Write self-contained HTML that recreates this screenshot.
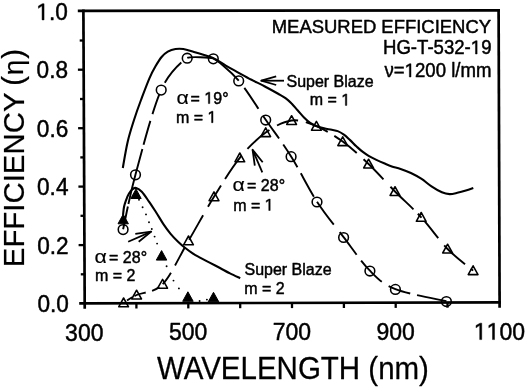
<!DOCTYPE html>
<html><head><meta charset="utf-8"><style>
html,body{margin:0;padding:0;background:#fff;}
svg{display:block;filter:grayscale(1);}
text{font-family:"Liberation Sans",sans-serif;}
.o,.h{fill-opacity:0;stroke-opacity:0;}
</style></head><body>
<svg width="525" height="388" viewBox="0 0 525 388">
<rect width="525" height="388" fill="#fff"/>
<g stroke="#000" stroke-width="2.7" fill="none" stroke-linecap="butt">
<path d="M77.8,10.91 L499.90,10.40"/>
<path d="M83.40,9.60 L84.72,308.70"/>
<path d="M498.60,9.10 L499.62,307.80"/>
<path d="M79.20,303.41 L500.90,302.40"/>
</g>
<g stroke="#000" stroke-width="2.3" fill="none"><path d="M80.8,274.3 H84.6"/><path d="M78.6,245.1 H84.4"/><path d="M80.5,215.8 H84.3"/><path d="M78.4,186.6 H84.2"/><path d="M80.3,157.4 H84.1"/><path d="M78.1,128.2 H83.9"/><path d="M80.0,99.0 H83.8"/><path d="M77.9,69.7 H83.7"/><path d="M79.7,40.5 H83.5"/><path d="M136.4,303.3 V308.5"/><path d="M188.3,303.2 V308.4"/><path d="M240.2,303.0 V308.2"/><path d="M292.0,302.9 V308.1"/><path d="M343.9,302.8 V308.0"/><path d="M395.7,302.7 V307.9"/><path d="M447.5,302.5 V307.7"/></g>
<path d="M122.8,168.0 C123.6,163.5 125.9,149.2 127.8,141.2 C129.7,133.2 131.8,126.9 134.0,120.0 C136.2,113.1 138.4,106.9 141.0,100.0 C143.6,93.1 146.9,84.2 149.3,78.6 C151.7,73.0 153.4,69.9 155.5,66.3 C157.6,62.7 159.5,59.5 161.6,57.0 C163.7,54.5 165.5,52.9 167.8,51.6 C170.1,50.3 172.9,49.4 175.5,49.0 C178.1,48.6 180.2,48.5 183.3,49.0 C186.4,49.5 189.1,50.5 194.0,52.0 C198.9,53.5 207.6,55.7 212.9,58.0 C218.2,60.3 221.5,63.1 225.8,65.6 C230.1,68.1 234.4,70.4 238.7,72.8 C243.0,75.2 247.2,77.6 251.5,79.8 C255.8,82.0 260.0,83.9 264.4,86.2 C268.8,88.5 274.2,91.5 277.7,93.5 C281.2,95.5 283.2,96.4 285.5,98.1 C287.8,99.8 289.6,101.4 291.6,103.5 C293.7,105.6 295.7,108.2 297.8,110.5 C299.9,112.8 301.9,115.4 304.0,117.5 C306.1,119.6 308.1,121.5 310.2,122.9 C312.3,124.3 314.1,125.1 316.4,126.0 C318.7,126.9 321.5,127.7 324.1,128.3 C326.7,128.9 329.5,129.3 331.8,129.8 C334.1,130.3 335.7,130.3 337.7,131.1 C339.7,131.9 341.8,133.2 343.9,134.7 C346.0,136.2 348.0,138.2 350.1,140.1 C352.2,142.0 354.2,144.4 356.3,146.3 C358.4,148.2 360.4,150.1 362.5,151.7 C364.6,153.3 366.3,154.5 368.6,155.9 C370.9,157.3 373.8,158.7 376.4,159.9 C379.0,161.1 381.5,162.2 384.1,163.3 C386.7,164.4 389.1,165.5 391.8,166.4 C394.6,167.3 397.4,167.8 400.6,168.9 C403.8,170.0 407.5,171.4 410.9,173.0 C414.3,174.6 417.8,176.5 421.2,178.7 C424.6,180.9 428.1,184.1 431.5,186.4 C434.9,188.7 438.9,191.0 441.9,192.3 C444.9,193.6 447.0,194.0 449.6,194.1 C452.2,194.2 454.7,193.4 457.3,192.8 C459.9,192.2 462.3,191.6 465.0,190.8 C467.7,190.0 471.9,188.5 473.3,188.0" stroke="#000" stroke-width="2.1" fill="none"/>
<path d="M123.0,215.0 C123.2,213.7 123.5,209.5 124.0,207.0 C124.5,204.5 125.4,202.1 126.2,199.8 C127.0,197.6 127.9,195.3 129.0,193.5 C130.1,191.7 131.4,190.1 132.6,189.2 C133.8,188.3 134.7,187.6 136.2,188.0 C137.7,188.4 139.7,189.5 141.8,191.8 C143.9,194.1 146.6,198.2 149.0,201.6 C151.4,205.0 153.8,208.8 156.2,212.5 C158.6,216.2 161.0,220.5 163.4,224.1 C165.8,227.7 168.2,230.9 170.6,233.8 C173.0,236.7 175.4,239.1 177.8,241.4 C180.2,243.7 182.6,245.8 185.0,247.7 C187.4,249.6 189.8,251.4 192.3,253.1 C194.8,254.8 197.1,256.0 200.0,257.6 C202.9,259.2 206.3,260.9 209.6,262.6 C212.9,264.3 216.6,266.2 220.0,268.0 C223.4,269.8 226.6,271.7 230.0,273.4 C233.4,275.1 238.5,277.4 240.2,278.2" stroke="#000" stroke-width="2.1" fill="none"/>
<path d="M123.1,229.3 C125.2,220.2 129.2,197.8 135.5,174.5 C141.8,151.2 152.6,109.2 161.2,89.8 C169.8,70.4 185.0,59.2 187.2,57.9 C189.4,56.6 210.3,57.2 213.3,58.5 C216.3,59.8 230.0,70.4 238.7,80.6 C247.4,90.8 257.0,107.1 265.7,119.7 C274.4,132.3 282.6,142.7 291.1,156.4 C299.7,170.1 308.2,188.2 317.0,201.7 C325.8,215.2 334.8,225.7 343.6,237.2 C352.4,248.7 361.3,262.0 369.9,270.7 C378.5,279.4 382.6,284.0 395.4,289.1 C408.1,294.2 437.9,299.2 446.4,301.2" stroke="#000" stroke-width="1.9" fill="none" stroke-dasharray="23.3 2.7 56.8 4.4 24.6 7.0 21.1 12.8 26.1 7.7 60.1 9.1 25.2 8.4 27.7 7.3 26.8 7.0 26.7 6.0 28.4 9.6 28.2 7.3 29.8 8.2 22.8 7.0 34.9 0.0"/>
<path d="M123.6,302.8 C125.8,301.5 130.1,298.1 136.6,295.0 C143.1,291.9 153.9,293.2 162.6,284.2 C171.2,275.2 179.9,255.4 188.5,240.8 C197.1,226.2 205.4,210.5 214.0,196.7 C222.6,182.9 231.2,168.5 239.8,157.8 C248.4,147.1 257.1,138.8 265.7,132.6 C274.3,126.4 283.2,121.6 291.6,120.5 C300.1,119.4 307.9,122.7 316.4,126.2 C324.9,129.7 334.0,135.3 342.7,141.6 C351.4,147.9 359.9,155.7 368.6,164.0 C377.3,172.3 386.2,182.6 395.0,191.5 C403.8,200.4 412.4,207.7 421.2,217.3 C430.0,226.9 439.0,240.1 447.6,249.0 C456.2,257.9 468.9,267.0 473.1,270.6" stroke="#000" stroke-width="1.9" fill="none" stroke-dasharray="0.1 4.1 6.1 2.6 11.8 6.6 8.0 4.6 14.3 8.1 20.6 8.7 28.2 9.7 25.0 7.7 28.5 9.0 29.1 8.8 22.0 8.0 24.0 7.7 28.2 9.3 28.2 10.1 32.5 6.2 5.3 5.0 21.3 9.3 28.0 7.1 8.7 0.0"/>
<g fill="#000"><circle cx="139" cy="199.7" r="0.95"/><circle cx="142.6" cy="207.2" r="0.95"/><circle cx="146" cy="214.4" r="0.95"/><circle cx="149" cy="222.2" r="0.95"/><circle cx="151.8" cy="229" r="0.95"/><circle cx="154.6" cy="236.6" r="0.95"/><circle cx="157.1" cy="243.6" r="0.95"/><circle cx="166.6" cy="266.2" r="0.95"/><circle cx="173.5" cy="280.6" r="0.95"/><circle cx="178.9" cy="288.4" r="0.95"/><circle cx="199.6" cy="301" r="0.95"/><circle cx="206.9" cy="299.6" r="0.95"/></g>
<g stroke="#000" stroke-width="1.55" fill="none"><circle cx="123.1" cy="229.6" r="4.85"/><circle cx="135.5" cy="174.8" r="4.85"/><circle cx="161.2" cy="90.1" r="4.85"/><circle cx="187.2" cy="58.2" r="4.85"/><circle cx="213.3" cy="58.8" r="4.85"/><circle cx="238.7" cy="80.9" r="4.85"/><circle cx="265.7" cy="120.0" r="4.85"/><circle cx="291.1" cy="156.7" r="4.85"/><circle cx="317" cy="202.0" r="4.85"/><circle cx="343.6" cy="237.5" r="4.85"/><circle cx="369.9" cy="271.0" r="4.85"/><circle cx="395.4" cy="289.4" r="4.85"/><circle cx="446.4" cy="301.5" r="4.85"/></g>
<g stroke="#000" stroke-width="1.55" fill="none" stroke-linejoin="round"><path d="M123.6,298.0 L128.5,306.8 L118.7,306.8 Z"/><path d="M136.6,290.2 L141.5,299.0 L131.7,299.0 Z"/><path d="M162.6,279.4 L167.5,288.2 L157.7,288.2 Z"/><path d="M188.5,236.0 L193.4,244.8 L183.6,244.8 Z"/><path d="M214.0,191.9 L218.9,200.7 L209.1,200.7 Z"/><path d="M239.8,153.0 L244.7,161.8 L234.9,161.8 Z"/><path d="M265.7,127.8 L270.6,136.6 L260.8,136.6 Z"/><path d="M291.6,115.7 L296.5,124.5 L286.7,124.5 Z"/><path d="M316.4,121.4 L321.3,130.2 L311.5,130.2 Z"/><path d="M342.7,136.8 L347.6,145.6 L337.8,145.6 Z"/><path d="M368.6,159.2 L373.5,168.0 L363.7,168.0 Z"/><path d="M395.0,186.7 L399.9,195.5 L390.1,195.5 Z"/><path d="M421.2,212.5 L426.1,221.3 L416.3,221.3 Z"/><path d="M447.6,244.2 L452.5,253.0 L442.7,253.0 Z"/><path d="M473.1,265.8 L478.0,274.6 L468.2,274.6 Z"/></g>
<g stroke="#000" stroke-width="1" fill="#000"><path d="M123.2,214.3 L128.4,223.8 L118.0,223.8 Z"/><path d="M136.0,189.0 L141.2,198.5 L130.8,198.5 Z"/><path d="M161.6,250.6 L166.8,260.1 L156.3,260.1 Z"/><path d="M187.9,291.8 L193.2,301.3 L182.7,301.3 Z"/><path d="M213.5,292.3 L218.8,301.8 L208.2,301.8 Z"/></g>
<path d="M284.0,80.7 L261.2,80.7" stroke="#000" stroke-width="1.8" fill="none"/><path d="M276.2,76.4 L261.2,80.7 L276.2,85.0" stroke="#000" stroke-width="1.8" fill="none" stroke-linejoin="round"/>
<path d="M262.3,172.3 L252.6,149.8" stroke="#000" stroke-width="1.8" fill="none"/><path d="M262.7,162.3 L252.6,149.8 L254.8,165.7" stroke="#000" stroke-width="1.8" fill="none" stroke-linejoin="round"/>
<path d="M128.2,241.7 L151.2,231.6" stroke="#000" stroke-width="1.8" fill="none"/><path d="M138.7,241.8 L151.2,231.6 L135.3,233.9" stroke="#000" stroke-width="1.8" fill="none" stroke-linejoin="round"/>
<g font-family="Liberation Sans" fill="#000" stroke="#000" stroke-width="0.45" stroke-linejoin="round"><text transform="translate(491.0,32.8) scale(1,1.04)" font-size="18.45" text-anchor="end" >MEASURED EFFICIENCY</text><text transform="translate(491.5,54) scale(1,1.04)" font-size="18.6" text-anchor="end" >HG-T-532-<tspan class="o">1</tspan>9</text><text transform="translate(491.5,77) scale(1,1.04)" font-size="18.6" text-anchor="end" >ν=<tspan class="o">1</tspan>200 l/mm</text><text transform="translate(286.5,86.7) scale(1,1.04)" font-size="16" text-anchor="start" >Super Blaze</text><text transform="translate(309.8,105.4) scale(1,1.04)" font-size="16" text-anchor="start" >m = <tspan class="o">1</tspan></text><text transform="translate(176.7,103.6) scale(1,1.04)" font-size="16" text-anchor="start" ><tspan class="h" font-family="Liberation Serif" font-size="18">α</tspan> = <tspan class="o">1</tspan>9°</text><text transform="translate(176,122.7) scale(1,1.04)" font-size="16" text-anchor="start" >m = <tspan class="o">1</tspan></text><text transform="translate(176.4,103.7) scale(1.22,1.0)" font-size="17.5" stroke-width="0.15" font-family="Liberation Serif">α</text><text transform="translate(232.6,191.3) scale(1.22,1.0)" font-size="17.5" stroke-width="0.15" font-family="Liberation Serif">α</text><text transform="translate(94.5,262.7) scale(1.22,1.0)" font-size="17.5" stroke-width="0.15" font-family="Liberation Serif">α</text><text transform="translate(233.2,191.1) scale(1,1.04)" font-size="16" text-anchor="start" ><tspan class="h" font-family="Liberation Serif" font-size="18">α</tspan> = 28°</text><text transform="translate(233.2,210.5) scale(1,1.04)" font-size="16" text-anchor="start" >m = <tspan class="o">1</tspan></text><text transform="translate(95.2,262.6) scale(1,1.04)" font-size="16" text-anchor="start" ><tspan class="h" font-family="Liberation Serif" font-size="18">α</tspan> = 28°</text><text transform="translate(95,281) scale(1,1.04)" font-size="16" text-anchor="start" >m = 2</text><text transform="translate(244.5,275.4) scale(1,1.04)" font-size="16" text-anchor="start" >Super Blaze</text><text transform="translate(244.3,293.7) scale(1,1.04)" font-size="16" text-anchor="start" >m = 2</text><text transform="translate(68.9,312.4) scale(1,1.04)" font-size="22.6" text-anchor="end" >0.0</text><text transform="translate(68.68,253.9) scale(1,1.04)" font-size="22.6" text-anchor="end" >0.2</text><text transform="translate(68.46,195.4) scale(1,1.04)" font-size="22.6" text-anchor="end" >0.4</text><text transform="translate(68.24,136.9) scale(1,1.04)" font-size="22.6" text-anchor="end" >0.6</text><text transform="translate(68.02,78.4) scale(1,1.04)" font-size="22.6" text-anchor="end" >0.8</text><text transform="translate(67.8,19.9) scale(1,1.04)" font-size="22.6" text-anchor="end" ><tspan class="o">1</tspan>.0</text><text transform="translate(84.3,340.6) scale(1,1.04)" font-size="23" text-anchor="middle" >300</text><text transform="translate(188.1,340.35) scale(1,1.04)" font-size="23" text-anchor="middle" >500</text><text transform="translate(291.9,340.1) scale(1,1.04)" font-size="23" text-anchor="middle" >700</text><text transform="translate(395.7,339.85) scale(1,1.04)" font-size="23" text-anchor="middle" >900</text><text transform="translate(499.5,339.6) scale(1,1.04)" font-size="23" text-anchor="middle" ><tspan class="o">1</tspan><tspan class="o">1</tspan>00</text><text transform="translate(157,378.5) scale(1,1.04)" font-size="29.5" text-anchor="start" stroke-width="0.25">WAVELENGTH (nm)</text><text font-size="29.4" stroke-width="0.2" transform="translate(24.3,267.2) rotate(-90)">EFFICIENCY <tspan font-size="29.4" dx="-1" dy="-0.9" letter-spacing="0.9">(<tspan font-size="28">η</tspan>)</tspan></text><path transform="translate(491.5,54) scale(1,1.04) translate(-20.71,0.00) scale(0.00908,-0.00908)" d="M515,0 L515,1225 L188,1005 L188,1210 L545,1409 L696,1409 L696,0 Z" stroke-width="49.5"/><path transform="translate(491.5,77) scale(1,1.04) translate(-86.82,0.00) scale(0.00908,-0.00908)" d="M515,0 L515,1225 L188,1005 L188,1210 L545,1409 L696,1409 L696,0 Z" stroke-width="49.5"/><path transform="translate(309.8,105.4) scale(1,1.04) translate(31.55,0.00) scale(0.00781,-0.00781)" d="M515,0 L515,1225 L188,1005 L188,1210 L545,1409 L696,1409 L696,0 Z" stroke-width="57.6"/><path transform="translate(176.7,103.6) scale(1,1.04) translate(27.66,0.00) scale(0.00781,-0.00781)" d="M515,0 L515,1225 L188,1005 L188,1210 L545,1409 L696,1409 L696,0 Z" stroke-width="57.6"/><path transform="translate(176,122.7) scale(1,1.04) translate(31.55,0.00) scale(0.00781,-0.00781)" d="M515,0 L515,1225 L188,1005 L188,1210 L545,1409 L696,1409 L696,0 Z" stroke-width="57.6"/><path transform="translate(233.2,210.5) scale(1,1.04) translate(31.55,0.00) scale(0.00781,-0.00781)" d="M515,0 L515,1225 L188,1005 L188,1210 L545,1409 L696,1409 L696,0 Z" stroke-width="57.6"/><path transform="translate(67.8,19.9) scale(1,1.04) translate(-31.43,0.00) scale(0.01104,-0.01104)" d="M515,0 L515,1225 L188,1005 L188,1210 L545,1409 L696,1409 L696,0 Z" stroke-width="40.8"/><path transform="translate(499.5,339.6) scale(1,1.04) translate(-25.58,0.00) scale(0.01123,-0.01123)" d="M515,0 L515,1225 L188,1005 L188,1210 L545,1409 L696,1409 L696,0 Z" stroke-width="40.1"/><path transform="translate(499.5,339.6) scale(1,1.04) translate(-12.79,0.00) scale(0.01123,-0.01123)" d="M515,0 L515,1225 L188,1005 L188,1210 L545,1409 L696,1409 L696,0 Z" stroke-width="40.1"/></g>
</svg>
</body></html>
